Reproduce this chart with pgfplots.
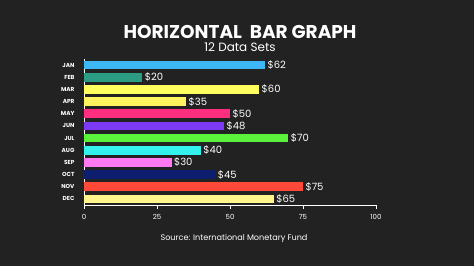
\documentclass[border=0pt]{standalone}
\usepackage{pgfplots}
\pgfplotsset{compat=1.18}
\usepackage{fontspec}
\setmainfont{Poppins}
\definecolor{bg}{HTML}{222222}
\definecolor{cJan}{HTML}{3DB8F5}
\definecolor{cFeb}{HTML}{2A9D82}
\definecolor{cMar}{HTML}{FFFF5E}
\definecolor{cApr}{HTML}{FFF35E}
\definecolor{cMay}{HTML}{FF2E7E}
\definecolor{cJun}{HTML}{7C3AF5}
\definecolor{cJul}{HTML}{5AF23A}
\definecolor{cAug}{HTML}{33F2EE}
\definecolor{cSep}{HTML}{FF7AF0}
\definecolor{cOct}{HTML}{0E1E6E}
\definecolor{cNov}{HTML}{FF4A3A}
\definecolor{cDec}{HTML}{FFF58A}
\begin{document}
\begin{tikzpicture}
\fill[bg] (0pt,0pt) rectangle (474pt,266pt);
\node[white,inner sep=0pt,font=\fontsize{18.5}{20}\selectfont\bfseries] at (240pt,234pt) {HORIZONTAL\ \ BAR GRAPH};
\node[white,inner sep=0pt,font=\fontsize{12}{13}\selectfont] at (240pt,219pt) {12 Data Sets};
\node[white,font=\fontsize{8.1}{9}\selectfont] at (234pt,28pt) {Source: International Monetary Fund};
\begin{axis}[
  at={(84pt,61pt)}, anchor=south west,
  scale only axis, width=292pt, height=146pt,
  xbar, bar width=8.7pt, bar shift=0pt,
  xmin=0, xmax=100, ymin=-0.5, ymax=11.5,
  xtick={0,25,50,75,100},
  ytick={0,...,11},
  yticklabels={DEC,NOV,OCT,SEP,AUG,JUL,JUN,MAY,APR,MAR,FEB,JAN},
  separate axis lines,
  axis x line*=bottom, axis y line*=left,
  axis line style={white, line width=1pt},
  x tick style={white, line width=1pt},
  tick align=outside,
  major tick length=4pt,
  y tick style={draw=none},
  xticklabel style={white, font=\fontsize{7}{8}\selectfont, yshift=-2pt},
  yticklabel style={white, font=\fontsize{5.8}{6}\selectfont\bfseries, xshift=-2pt},
  /pgf/number format/assume math mode=true,
  point meta=x,
  nodes near coords={\$\pgfmathprintnumber{\pgfplotspointmeta}},
  nodes near coords style={white, font=\fontsize{10}{11}\selectfont, anchor=west, xshift=-1pt},
  clip=false,
]
\addplot[fill=cJan, draw=none] coordinates {(62,11)};
\addplot[fill=cFeb, draw=none] coordinates {(20,10)};
\addplot[fill=cMar, draw=none] coordinates {(60,9)};
\addplot[fill=cApr, draw=none] coordinates {(35,8)};
\addplot[fill=cMay, draw=none] coordinates {(50,7)};
\addplot[fill=cJun, draw=none] coordinates {(48,6)};
\addplot[fill=cJul, draw=none] coordinates {(70,5)};
\addplot[fill=cAug, draw=none] coordinates {(40,4)};
\addplot[fill=cSep, draw=none] coordinates {(30,3)};
\addplot[fill=cOct, draw=none] coordinates {(45,2)};
\addplot[fill=cNov, draw=none] coordinates {(75,1)};
\addplot[fill=cDec, draw=none] coordinates {(65,0)};
\end{axis}
\end{tikzpicture}
\end{document}
